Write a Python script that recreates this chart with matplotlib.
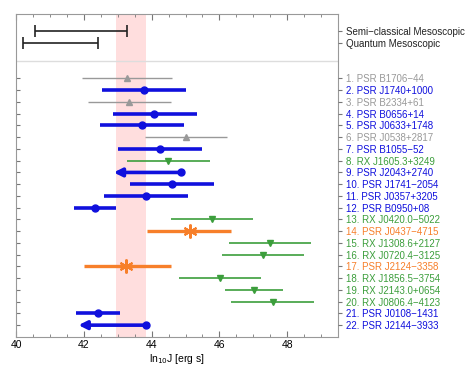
import matplotlib
matplotlib.use("Agg")
import matplotlib.pyplot as plt
from matplotlib.ticker import MultipleLocator

plt.rcParams["font.family"] = ["Liberation Sans", "DejaVu Sans"]

# reference intervals (top panel)
ref_labels = ["Semi\u2212classical Mesoscopic", "Quantum Mesoscopic"]
ref_lo = [40.56, 40.2]
ref_hi = [43.28, 42.42]

# pulsars
names = ["PSR B1706\u221244", "PSR J1740+1000", "PSR B2334+61", "PSR B0656+14",
         "PSR J0633+1748", "PSR J0538+2817", "PSR B1055\u221252", "RX J1605.3+3249",
         "PSR J2043+2740", "PSR J1741\u22122054", "PSR J0357+3205", "PSR B0950+08",
         "RX J0420.0\u22125022", "PSR J0437\u22124715", "RX J1308.6+2127",
         "RX J0720.4\u22123125", "PSR J2124\u22123358", "RX J1856.5\u22123754",
         "RX J2143.0+0654", "RX J0806.4\u22124123", "PSR J0108\u22121431",
         "PSR J2144\u22123933"]
kinds = ["gray", "blue", "gray", "blue", "blue", "gray", "blue", "green", "blue",
         "blue", "blue", "blue", "green", "orange", "green", "green", "orange",
         "green", "green", "green", "blue", "blue"]
center = [43.27, 43.77, 43.32, 44.08, 43.72, 45.01, 44.24, 44.49, 44.87, 44.61,
          43.84, 42.32, 45.79, 45.12, 47.49, 47.30, 43.25, 46.02, 47.02, 47.58,
          42.43, 43.82]
low = [41.94, 42.54, 42.11, 42.85, 42.47, 43.79, 43.00, 43.27, 42.88, 43.35,
       42.60, 41.70, 44.58, 43.87, 46.28, 46.08, 41.99, 44.82, 46.18, 46.35,
       41.78, 41.84]
high = [44.61, 45.02, 44.56, 45.35, 44.97, 46.23, 45.49, 45.71, None, 45.84,
        45.08, 42.96, 47.00, 46.35, 48.70, 48.50, 44.58, 47.24, 47.88, 48.80,
        43.08, None]

band = (42.95, 43.83)

colors = {"gray": "#999999", "blue": "#1010dd", "green": "#3c9e3c", "orange": "#f77f2a"}
markers = {"gray": "^", "blue": "o", "green": "v", "orange": (6, 2, 0)}
msizes = {"gray": 4, "blue": 5, "green": 4, "orange": 10}
lws = {"gray": 1.0, "blue": 2.6, "green": 1.2, "orange": 2.4}

fig = plt.figure(figsize=(4.74, 3.65), dpi=100)
ax = fig.add_axes([0.034, 0.077, 0.679, 0.885])

ax.axvspan(band[0], band[1], color="#ffdede", lw=0, zorder=0)
ax.axhline(-0.5, color="#dddddd", lw=1, zorder=1)

ref_y = [-3, -2]
for y, lo, hi in zip(ref_y, ref_lo, ref_hi):
    ax.errorbar([(lo + hi) / 2], [y], xerr=[[(hi - lo) / 2], [(hi - lo) / 2]],
                fmt="none", ecolor="#222222", elinewidth=1.2, capsize=4, capthick=1.2)

for i in range(len(names)):
    y = i + 1
    c = colors[kinds[i]]
    if high[i] is None:
        ax.annotate("", xy=(low[i], y), xytext=(center[i], y),
                    arrowprops=dict(arrowstyle="-|>", color=c, lw=lws[kinds[i]],
                                    mutation_scale=12, shrinkA=0, shrinkB=0))
    else:
        ax.plot([low[i], high[i]], [y, y], color=c, lw=lws[kinds[i]], solid_capstyle="butt")
    ax.plot(center[i], y, marker=markers[kinds[i]], color=c, ms=msizes[kinds[i]],
            mew=1.5 if kinds[i] == "orange" else 1, linestyle="none", zorder=3)

ax.set_xlim(40, 49.5)
ax.set_ylim(23, -4.5)
ax.xaxis.set_major_locator(MultipleLocator(2))
ax.xaxis.set_minor_locator(MultipleLocator(0.5))
ax.tick_params(axis="x", which="both", direction="in", top=True, labelsize=7.5,
               colors="#777777", labelcolor="black", pad=2)
ax.tick_params(axis="x", which="major", length=4)
ax.tick_params(axis="x", which="minor", length=2)
ax.set_yticks(range(1, 23))
ax.set_yticklabels([])
ax.tick_params(axis="y", direction="in", length=3, colors="#777777")
ax.set_xlabel("ln$_{10}$J [erg s]", fontsize=7.5, labelpad=2)
for s in ax.spines.values():
    s.set_color("#999999")
    s.set_linewidth(0.8)

ax2 = ax.twinx()
ax2.set_ylim(ax.get_ylim())
ax2.set_yticks(ref_y + list(range(1, 23)))
ax2.set_yticklabels(ref_labels + ["%d. %s" % (i + 1, n) for i, n in enumerate(names)],
                    fontsize=7)
ax2.tick_params(axis="y", direction="out", length=3, colors="#777777", pad=3)
for lab, col in zip(ax2.get_yticklabels(),
                    ["#222222", "#222222"] + [colors[k] for k in kinds]):
    lab.set_color(col)
for s in ax2.spines.values():
    s.set_visible(False)

fig.savefig("out.png", dpi=100)
